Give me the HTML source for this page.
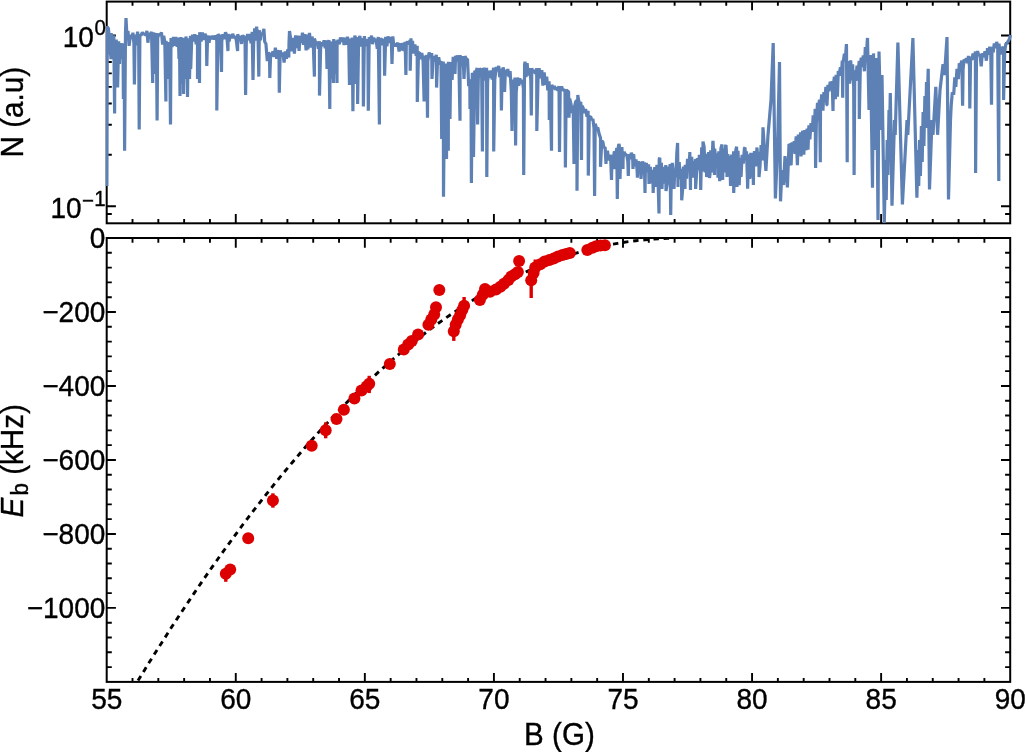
<!DOCTYPE html>
<html lang="en">
<head>
<meta charset="utf-8">
<title>N (a.u) and E_b (kHz) versus B (G)</title>
<style>
html,body{margin:0;padding:0;background:#fff;}
body{width:1025px;height:752px;overflow:hidden;font-family:"Liberation Sans", Arial, Helvetica, sans-serif;}
svg{display:block;}
</style>
</head>
<body>
<svg width="1025" height="752" viewBox="0 0 1025 752" font-family='"Liberation Sans", Arial, Helvetica, sans-serif' fill="#000">
<g stroke="#000" stroke-width="0.35">
<rect x="0" y="0" width="1025" height="752" fill="#fff" stroke="none"/>
<g fill="none" stroke="#000" stroke-width="2.0" stroke-linecap="butt">
<rect x="106.7" y="1.6" width="903.50" height="221.70"/>
<rect x="106.7" y="238.0" width="903.50" height="443.90"/>
</g>
<path d="M132.51 1.60v4.20M132.51 223.30v-4.40M132.51 238.00v4.75M132.51 681.90v-4.00M158.33 1.60v4.20M158.33 223.30v-4.40M158.33 238.00v4.75M158.33 681.90v-4.00M184.14 1.60v4.20M184.14 223.30v-4.40M184.14 238.00v4.75M184.14 681.90v-4.00M209.96 1.60v4.20M209.96 223.30v-4.40M209.96 238.00v4.75M209.96 681.90v-4.00M235.77 1.60v8.60M235.77 223.30v-9.20M235.77 238.00v9.70M235.77 681.90v-8.80M261.59 1.60v4.20M261.59 223.30v-4.40M261.59 238.00v4.75M261.59 681.90v-4.00M287.40 1.60v4.20M287.40 223.30v-4.40M287.40 238.00v4.75M287.40 681.90v-4.00M313.21 1.60v4.20M313.21 223.30v-4.40M313.21 238.00v4.75M313.21 681.90v-4.00M339.03 1.60v4.20M339.03 223.30v-4.40M339.03 238.00v4.75M339.03 681.90v-4.00M364.84 1.60v8.60M364.84 223.30v-9.20M364.84 238.00v9.70M364.84 681.90v-8.80M390.66 1.60v4.20M390.66 223.30v-4.40M390.66 238.00v4.75M390.66 681.90v-4.00M416.47 1.60v4.20M416.47 223.30v-4.40M416.47 238.00v4.75M416.47 681.90v-4.00M442.29 1.60v4.20M442.29 223.30v-4.40M442.29 238.00v4.75M442.29 681.90v-4.00M468.10 1.60v4.20M468.10 223.30v-4.40M468.10 238.00v4.75M468.10 681.90v-4.00M493.91 1.60v8.60M493.91 223.30v-9.20M493.91 238.00v9.70M493.91 681.90v-8.80M519.73 1.60v4.20M519.73 223.30v-4.40M519.73 238.00v4.75M519.73 681.90v-4.00M545.54 1.60v4.20M545.54 223.30v-4.40M545.54 238.00v4.75M545.54 681.90v-4.00M571.36 1.60v4.20M571.36 223.30v-4.40M571.36 238.00v4.75M571.36 681.90v-4.00M597.17 1.60v4.20M597.17 223.30v-4.40M597.17 238.00v4.75M597.17 681.90v-4.00M622.99 1.60v8.60M622.99 223.30v-9.20M622.99 238.00v9.70M622.99 681.90v-8.80M648.80 1.60v4.20M648.80 223.30v-4.40M648.80 238.00v4.75M648.80 681.90v-4.00M674.61 1.60v4.20M674.61 223.30v-4.40M674.61 238.00v4.75M674.61 681.90v-4.00M700.43 1.60v4.20M700.43 223.30v-4.40M700.43 238.00v4.75M700.43 681.90v-4.00M726.24 1.60v4.20M726.24 223.30v-4.40M726.24 238.00v4.75M726.24 681.90v-4.00M752.06 1.60v8.60M752.06 223.30v-9.20M752.06 238.00v9.70M752.06 681.90v-8.80M777.87 1.60v4.20M777.87 223.30v-4.40M777.87 238.00v4.75M777.87 681.90v-4.00M803.69 1.60v4.20M803.69 223.30v-4.40M803.69 238.00v4.75M803.69 681.90v-4.00M829.50 1.60v4.20M829.50 223.30v-4.40M829.50 238.00v4.75M829.50 681.90v-4.00M855.31 1.60v4.20M855.31 223.30v-4.40M855.31 238.00v4.75M855.31 681.90v-4.00M881.13 1.60v8.60M881.13 223.30v-9.20M881.13 238.00v9.70M881.13 681.90v-8.80M906.94 1.60v4.20M906.94 223.30v-4.40M906.94 238.00v4.75M906.94 681.90v-4.00M932.76 1.60v4.20M932.76 223.30v-4.40M932.76 238.00v4.75M932.76 681.90v-4.00M958.57 1.60v4.20M958.57 223.30v-4.40M958.57 238.00v4.75M958.57 681.90v-4.00M984.39 1.60v4.20M984.39 223.30v-4.40M984.39 238.00v4.75M984.39 681.90v-4.00M106.70 214.01h5.10M1010.20 214.01h-5.10M106.70 206.20h9.20M1010.20 206.20h-9.20M106.70 154.81h5.10M1010.20 154.81h-5.10M106.70 124.76h5.10M1010.20 124.76h-5.10M106.70 103.43h5.10M1010.20 103.43h-5.10M106.70 86.89h5.10M1010.20 86.89h-5.10M106.70 73.37h5.10M1010.20 73.37h-5.10M106.70 61.94h5.10M1010.20 61.94h-5.10M106.70 52.04h5.10M1010.20 52.04h-5.10M106.70 43.31h5.10M1010.20 43.31h-5.10M106.70 35.50h9.20M1010.20 35.50h-9.20M106.70 252.80h5.10M1010.20 252.80h-5.10M106.70 267.59h5.10M1010.20 267.59h-5.10M106.70 282.39h5.10M1010.20 282.39h-5.10M106.70 297.19h5.10M1010.20 297.19h-5.10M106.70 311.98h9.20M1010.20 311.98h-9.20M106.70 326.78h5.10M1010.20 326.78h-5.10M106.70 341.58h5.10M1010.20 341.58h-5.10M106.70 356.37h5.10M1010.20 356.37h-5.10M106.70 371.17h5.10M1010.20 371.17h-5.10M106.70 385.97h9.20M1010.20 385.97h-9.20M106.70 400.76h5.10M1010.20 400.76h-5.10M106.70 415.56h5.10M1010.20 415.56h-5.10M106.70 430.36h5.10M1010.20 430.36h-5.10M106.70 445.15h5.10M1010.20 445.15h-5.10M106.70 459.95h9.20M1010.20 459.95h-9.20M106.70 474.75h5.10M1010.20 474.75h-5.10M106.70 489.54h5.10M1010.20 489.54h-5.10M106.70 504.34h5.10M1010.20 504.34h-5.10M106.70 519.14h5.10M1010.20 519.14h-5.10M106.70 533.93h9.20M1010.20 533.93h-9.20M106.70 548.73h5.10M1010.20 548.73h-5.10M106.70 563.53h5.10M1010.20 563.53h-5.10M106.70 578.32h5.10M1010.20 578.32h-5.10M106.70 593.12h5.10M1010.20 593.12h-5.10M106.70 607.92h9.20M1010.20 607.92h-9.20M106.70 622.71h5.10M1010.20 622.71h-5.10M106.70 637.51h5.10M1010.20 637.51h-5.10M106.70 652.31h5.10M1010.20 652.31h-5.10M106.70 667.10h5.10M1010.20 667.10h-5.10" fill="none" stroke="#000" stroke-width="1.9"/>
<text transform="translate(106.70 708.8) scale(1 1.04)" font-size="28" text-anchor="middle">55</text>
<text transform="translate(235.77 708.8) scale(1 1.04)" font-size="28" text-anchor="middle">60</text>
<text transform="translate(364.84 708.8) scale(1 1.04)" font-size="28" text-anchor="middle">65</text>
<text transform="translate(493.91 708.8) scale(1 1.04)" font-size="28" text-anchor="middle">70</text>
<text transform="translate(622.99 708.8) scale(1 1.04)" font-size="28" text-anchor="middle">75</text>
<text transform="translate(752.06 708.8) scale(1 1.04)" font-size="28" text-anchor="middle">80</text>
<text transform="translate(881.13 708.8) scale(1 1.04)" font-size="28" text-anchor="middle">85</text>
<text transform="translate(1010.20 708.8) scale(1 1.04)" font-size="28" text-anchor="middle">90</text>
<text transform="translate(105.3 248.40) scale(1 1.04)" font-size="28" text-anchor="end">0</text>
<text transform="translate(105.3 322.38) scale(1 1.04)" font-size="28" text-anchor="end">−200</text>
<text transform="translate(105.3 396.37) scale(1 1.04)" font-size="28" text-anchor="end">−400</text>
<text transform="translate(105.3 470.35) scale(1 1.04)" font-size="28" text-anchor="end">−600</text>
<text transform="translate(105.3 544.33) scale(1 1.04)" font-size="28" text-anchor="end">−800</text>
<text transform="translate(105.3 618.32) scale(1 1.04)" font-size="28" text-anchor="end">−1000</text>
<text transform="translate(93.8 46.9) scale(1 1.05)" font-size="28" text-anchor="end">10</text>
<text transform="translate(94.4 35.0) scale(1 1.04)" font-size="20.5" text-anchor="start">0</text>
<text transform="translate(81.6 217.7) scale(1 1.05)" font-size="28" text-anchor="end">10</text>
<text transform="translate(82.0 205.6) scale(1 1.04)" font-size="20.5" text-anchor="start"><tspan dy="2.2">−</tspan><tspan dy="-2.2" dx="0.3">1</tspan></text>
<text transform="translate(559.4 745.0) scale(1 1.04)" font-size="29.6" text-anchor="middle" id="lblB">B (G)</text>
<text transform="translate(22.9 112.2) rotate(-90) scale(1 1.03)" font-size="29.6" text-anchor="middle" id="lblN">N (a.u)</text>
<text transform="translate(22.9 460.8) rotate(-90) scale(1 1.03)" font-size="29.6" text-anchor="middle" id="lblE"><tspan font-style="italic">E</tspan><tspan font-size="22.5" dy="5.4" dx="2.2">b</tspan><tspan dy="-5.4"> (kHz)</tspan></text>
</g>
<clipPath id="c2"><rect x="106.7" y="238.0" width="903.50" height="443.90"/></clipPath>
<polyline clip-path="url(#c2)" points="135.6,684.5 140.1,677.2 144.6,669.9 149.1,662.6 153.6,655.5 158.1,648.3 162.6,641.3 167.1,634.3 171.5,627.3 176.0,620.4 180.5,613.6 185.0,606.8 189.5,600.1 194.0,593.4 198.5,586.8 202.9,580.3 207.4,573.8 211.9,567.4 216.4,561.0 220.9,554.7 225.4,548.4 229.9,542.3 234.4,536.1 238.8,530.1 243.3,524.0 247.8,518.1 252.3,512.2 256.8,506.4 261.3,500.6 265.8,494.9 270.2,489.3 274.7,483.7 279.2,478.2 283.7,472.7 288.2,467.3 292.7,462.0 297.2,456.7 301.6,451.5 306.1,446.3 310.6,441.2 315.1,436.2 319.6,431.2 324.1,426.3 328.6,421.5 333.1,416.7 337.5,412.0 342.0,407.4 346.5,402.8 351.0,398.3 355.5,393.8 360.1,389.4 364.6,385.1 369.1,380.8 373.6,376.6 378.1,372.4 382.7,368.3 387.2,364.3 391.7,360.4 396.2,356.5 400.7,352.7 405.3,348.9 409.8,345.2 414.3,341.6 418.8,338.0 423.3,334.5 427.9,331.0 432.4,327.6 436.9,324.3 441.4,321.1 445.9,317.9 450.5,314.7 455.0,311.7 459.5,308.7 464.0,305.7 468.6,302.9 473.1,300.1 477.6,297.3 482.1,294.6 486.6,292.0 491.2,289.5 495.7,287.0 500.2,284.5 504.7,282.2 509.2,279.9 513.8,277.6 518.3,275.5 522.8,273.3 527.3,271.3 531.8,269.3 536.4,267.4 540.9,265.5 545.4,263.7 549.9,262.0 554.5,260.3 559.0,258.7 563.5,257.2 568.0,255.7 572.5,254.2 577.1,252.9 581.6,251.6 586.1,250.3 590.6,249.2 595.1,248.0 599.7,247.0 604.2,246.0 608.7,245.1 613.2,244.2 617.7,243.4 622.3,242.6 626.8,241.9 631.3,241.3 635.8,240.7 640.4,240.2 644.9,239.8 649.4,239.4 653.9,239.0 658.4,238.8 663.0,238.5 667.5,238.4 672.0,238.3" fill="none" stroke="#000" stroke-width="2.9" stroke-dasharray="5.4 4.8" stroke-dashoffset="5.6"/>
<g fill="#dc0000" stroke="#dc0000">
<path d="M225.8 570.8V581.8" stroke-width="3.4" fill="none"/>
<path d="M230.2 566.4V572.4" stroke-width="3.4" fill="none"/>
<path d="M272.9 493.3V507.7" stroke-width="3.4" fill="none"/>
<path d="M325.7 422.3V438.3" stroke-width="3.4" fill="none"/>
<path d="M369.2 375.8V393.1" stroke-width="3.4" fill="none"/>
<path d="M453.8 325.3V340.9" stroke-width="3.4" fill="none"/>
<path d="M464.1 297.0V311.7" stroke-width="3.4" fill="none"/>
<path d="M531.2 270.2V298.0" stroke-width="3.4" fill="none"/>
<path d="M533.6 265.0V281.0" stroke-width="3.4" fill="none"/>
<path d="M535.2 259.5V275.5" stroke-width="3.4" fill="none"/>
<circle cx="225.8" cy="573.8" r="6.0" stroke="none"/>
<circle cx="230.2" cy="569.4" r="6.0" stroke="none"/>
<circle cx="248.2" cy="538.2" r="6.0" stroke="none"/>
<circle cx="272.9" cy="500.5" r="6.0" stroke="none"/>
<circle cx="311.7" cy="445.8" r="6.0" stroke="none"/>
<circle cx="325.7" cy="430.3" r="6.0" stroke="none"/>
<circle cx="336.5" cy="418.9" r="6.0" stroke="none"/>
<circle cx="343.9" cy="409.8" r="6.0" stroke="none"/>
<circle cx="354.4" cy="398.4" r="6.0" stroke="none"/>
<circle cx="361.5" cy="390.4" r="6.0" stroke="none"/>
<circle cx="366.6" cy="386.5" r="6.0" stroke="none"/>
<circle cx="369.2" cy="383.8" r="6.0" stroke="none"/>
<circle cx="389.8" cy="363.9" r="6.0" stroke="none"/>
<circle cx="403.8" cy="349.6" r="6.0" stroke="none"/>
<circle cx="408.2" cy="344.5" r="6.0" stroke="none"/>
<circle cx="411.8" cy="340.9" r="6.0" stroke="none"/>
<circle cx="418.1" cy="334.6" r="6.0" stroke="none"/>
<circle cx="428.4" cy="324.8" r="6.0" stroke="none"/>
<circle cx="431.3" cy="319.6" r="6.0" stroke="none"/>
<circle cx="434.2" cy="314.5" r="6.0" stroke="none"/>
<circle cx="436.0" cy="307.2" r="6.0" stroke="none"/>
<circle cx="439.3" cy="290.1" r="6.0" stroke="none"/>
<circle cx="453.8" cy="331.3" r="6.0" stroke="none"/>
<circle cx="455.7" cy="324.8" r="6.0" stroke="none"/>
<circle cx="457.9" cy="319.6" r="6.0" stroke="none"/>
<circle cx="460.1" cy="315.2" r="6.0" stroke="none"/>
<circle cx="462.3" cy="310.1" r="6.0" stroke="none"/>
<circle cx="464.1" cy="305.7" r="6.0" stroke="none"/>
<circle cx="479.9" cy="299.9" r="6.0" stroke="none"/>
<circle cx="482.8" cy="294.8" r="6.0" stroke="none"/>
<circle cx="485.0" cy="288.9" r="6.0" stroke="none"/>
<circle cx="490.1" cy="291.8" r="6.0" stroke="none"/>
<circle cx="496.0" cy="289.6" r="6.0" stroke="none"/>
<circle cx="500.4" cy="286.7" r="6.0" stroke="none"/>
<circle cx="504.0" cy="283.8" r="6.0" stroke="none"/>
<circle cx="508.4" cy="280.1" r="6.0" stroke="none"/>
<circle cx="511.3" cy="276.5" r="6.0" stroke="none"/>
<circle cx="515.0" cy="274.3" r="6.0" stroke="none"/>
<circle cx="517.9" cy="272.1" r="6.0" stroke="none"/>
<circle cx="519.1" cy="261.1" r="6.0" stroke="none"/>
<circle cx="531.2" cy="280.2" r="6.0" stroke="none"/>
<circle cx="533.6" cy="273.0" r="6.0" stroke="none"/>
<circle cx="535.2" cy="267.5" r="6.0" stroke="none"/>
<circle cx="540.3" cy="264.3" r="6.0" stroke="none"/>
<circle cx="544.7" cy="261.4" r="6.0" stroke="none"/>
<circle cx="549.3" cy="260.1" r="6.0" stroke="none"/>
<circle cx="553.7" cy="258.4" r="6.0" stroke="none"/>
<circle cx="558.0" cy="256.5" r="6.0" stroke="none"/>
<circle cx="562.4" cy="255.0" r="6.0" stroke="none"/>
<circle cx="566.1" cy="254.0" r="6.0" stroke="none"/>
<circle cx="569.8" cy="253.1" r="6.0" stroke="none"/>
<circle cx="587.3" cy="249.9" r="6.0" stroke="none"/>
<circle cx="592.4" cy="247.7" r="6.0" stroke="none"/>
<circle cx="596.1" cy="246.2" r="6.0" stroke="none"/>
<circle cx="600.5" cy="245.5" r="6.0" stroke="none"/>
<circle cx="604.9" cy="245.2" r="6.0" stroke="none"/>
</g>
<clipPath id="c1"><rect x="105.5" y="1.6" width="906.70" height="221.70"/></clipPath>
<polyline clip-path="url(#c1)" points="106.9,186.0 107.3,26.0 107.6,42.1 108.3,27.5 108.8,32.4 109.0,54.0 110.0,47.1 111.0,59.0 111.2,33.1 112.4,51.8 112.5,49.0 113.8,35.3 114.6,113.4 114.9,44.3 116.0,59.0 116.2,39.5 117.2,62.6 117.6,87.5 118.6,41.3 119.5,64.0 119.9,49.5 120.9,42.9 121.0,59.0 121.9,52.1 123.0,43.3 123.4,99.0 124.2,56.9 124.6,150.7 125.5,31.7 126.0,18.0 126.8,33.0 128.0,31.0 129.1,45.8 130.5,34.6 131.8,38.9 132.9,32.7 133.9,43.4 134.4,84.6 135.1,34.6 136.3,45.4 137.6,31.7 138.7,44.9 139.2,129.5 139.9,35.0 141.0,35.5 142.3,32.3 143.4,34.5 144.5,33.2 145.8,35.4 146.9,30.8 147.9,42.7 149.0,32.8 150.2,37.0 151.5,31.7 152.7,83.0 152.7,36.6 153.9,32.4 154.5,74.0 155.0,45.7 156.3,33.1 157.1,120.4 157.7,37.8 158.9,33.9 160.1,35.3 161.5,32.4 162.6,44.6 163.7,35.9 164.8,42.1 165.9,101.5 166.0,41.0 167.2,46.7 167.5,79.0 168.4,42.2 169.6,47.0 170.5,124.4 171.0,37.9 172.0,47.1 173.4,37.0 174.4,45.7 175.8,36.9 177.2,46.9 178.4,37.6 179.0,59.0 179.5,39.9 180.0,96.0 180.9,37.0 182.0,84.0 182.1,41.7 183.5,38.2 183.5,94.0 184.6,41.0 185.5,79.0 185.9,36.4 187.0,44.2 187.5,97.0 188.3,38.3 189.4,47.2 189.5,79.0 190.5,35.9 190.7,69.0 191.6,42.1 192.6,34.8 193.8,41.5 194.8,34.3 196.2,44.3 197.5,35.0 197.5,79.0 198.7,37.0 199.5,83.0 199.7,32.3 201.1,41.5 202.4,32.5 203.7,40.0 205.0,33.8 206.4,36.9 206.8,66.0 207.6,35.5 209.0,42.6 210.3,35.9 211.6,39.3 212.9,35.9 214.2,39.5 215.6,35.4 216.8,40.9 216.8,110.5 217.9,34.2 219.2,36.1 220.4,35.3 221.5,72.0 221.8,41.1 222.9,34.3 224.2,39.0 225.5,32.3 226.8,35.8 228.0,51.0 228.1,33.9 229.1,41.6 230.3,34.6 231.7,38.2 232.7,33.8 234.0,38.0 235.1,36.1 236.3,40.2 237.6,51.0 237.7,34.3 238.9,38.2 240.1,35.9 241.5,43.9 242.6,35.2 243.8,37.7 245.0,36.0 245.6,95.0 246.3,42.5 247.7,34.1 248.8,40.3 249.9,33.9 251.0,43.3 252.2,32.0 253.0,80.0 253.6,44.6 254.7,28.3 255.8,40.7 256.6,26.6 256.8,28.5 258.0,35.7 258.8,76.6 259.3,30.2 260.4,40.2 261.4,32.9 262.5,35.0 263.5,30.5 263.9,28.8 264.7,41.7 265.9,43.7 267.3,61.0 268.4,52.5 269.5,54.4 269.8,78.0 270.7,52.9 271.7,56.4 272.9,51.4 274.1,56.8 275.4,47.7 276.7,58.9 277.7,50.5 279.0,52.7 279.3,92.7 280.2,50.4 281.6,56.1 282.8,52.6 284.1,62.5 285.3,51.4 286.4,58.7 287.7,49.6 288.8,57.5 289.0,43.0 289.5,31.0 290.4,36.9 291.7,51.3 293.1,38.0 294.4,53.7 295.6,35.3 296.7,48.0 298.0,35.6 299.1,50.9 300.1,35.9 301.2,43.1 302.5,32.7 303.5,44.9 304.8,34.2 306.1,50.3 307.3,34.5 307.8,49.5 308.3,40.3 309.5,33.0 310.8,47.6 312.0,36.6 313.3,44.6 314.4,76.6 314.4,38.5 315.8,43.1 317.1,42.0 318.3,48.6 319.4,41.2 319.5,95.6 320.6,48.4 321.6,42.2 322.8,46.0 324.1,40.3 325.3,48.3 326.4,40.3 327.0,69.0 327.5,51.2 328.9,39.9 329.8,109.0 330.1,44.0 331.3,41.7 331.5,79.0 332.6,46.7 333.4,83.0 333.7,39.1 335.0,50.4 335.2,74.0 336.0,40.6 337.0,83.0 337.1,43.2 338.1,39.9 339.3,44.3 340.5,37.5 341.8,41.7 343.0,37.6 344.1,45.1 345.3,37.7 346.4,44.8 347.5,36.8 348.8,45.4 349.5,85.0 350.0,38.6 351.0,79.0 351.2,47.0 352.3,37.6 352.9,111.2 353.6,46.8 354.5,84.0 354.8,35.6 356.1,39.9 357.5,37.6 357.6,104.0 358.6,40.6 359.9,35.9 360.9,46.6 362.1,38.2 363.1,43.2 363.4,106.6 364.4,36.1 365.5,46.1 366.8,39.2 367.9,44.1 368.3,110.8 369.2,37.3 370.5,40.8 371.5,35.6 372.5,44.1 373.7,37.6 374.8,41.3 375.9,39.0 377.3,48.7 378.3,37.0 379.4,124.4 379.7,45.0 381.0,38.1 382.2,45.2 383.3,38.6 384.3,46.5 384.6,75.8 385.7,36.8 386.9,46.4 388.0,36.3 389.1,43.1 390.1,36.9 391.4,42.9 392.0,64.0 392.8,36.4 393.9,46.5 395.1,43.5 396.4,46.3 397.8,42.7 399.1,51.4 400.3,43.3 401.6,50.4 402.9,43.1 404.1,50.9 405.1,41.8 405.9,75.0 406.3,43.8 407.5,41.6 408.7,44.5 410.1,40.2 410.2,70.7 411.0,38.3 411.2,47.5 412.5,41.0 413.6,53.4 414.9,44.4 416.2,55.7 417.2,45.7 417.3,102.0 418.5,52.8 419.6,52.4 420.7,59.3 421.8,53.1 423.1,60.9 424.1,101.5 424.3,55.5 425.5,65.0 426.8,55.0 427.5,117.8 427.8,61.4 429.1,52.4 430.5,57.4 431.7,53.1 432.0,79.0 432.9,62.0 433.9,56.1 435.1,61.6 436.3,54.8 436.6,87.6 437.4,64.5 438.7,57.2 440.0,64.5 441.0,60.9 441.7,139.0 442.0,71.8 443.3,61.5 443.5,196.8 444.6,85.4 445.0,129.0 445.7,63.6 446.5,159.0 447.0,69.9 448.3,150.7 448.4,61.7 449.6,90.6 450.0,119.0 450.7,62.0 452.1,80.0 453.2,56.9 454.6,64.5 455.0,74.0 455.6,55.7 456.8,60.1 457.8,55.4 458.9,62.7 460.0,120.7 460.1,55.1 461.2,64.3 462.4,56.2 463.6,68.9 464.0,79.0 465.0,56.1 466.1,59.1 467.5,59.0 468.7,86.1 469.8,79.2 470.0,109.0 471.0,85.7 471.4,183.0 472.3,72.9 473.4,75.6 473.5,157.0 474.8,70.8 476.1,72.3 477.1,67.9 477.6,124.4 478.3,78.7 479.3,68.2 480.4,71.8 481.6,68.4 482.4,151.4 482.9,75.8 484.1,67.7 485.2,80.7 486.6,67.8 486.8,177.0 487.6,81.9 488.9,70.6 489.9,77.8 491.1,70.5 492.2,79.6 493.6,67.8 493.7,151.4 494.8,79.6 496.2,67.0 497.3,71.0 498.7,65.9 499.7,77.2 500.9,68.5 501.4,110.5 502.0,80.3 503.1,67.4 504.3,72.5 504.6,92.0 505.4,69.8 506.7,75.5 507.8,69.0 509.1,76.9 510.1,71.2 511.3,90.9 512.0,131.0 512.7,79.4 513.9,90.6 515.0,77.6 515.6,145.6 516.2,92.3 517.5,77.6 518.7,85.7 519.8,78.3 521.0,83.9 522.2,79.8 523.4,88.3 523.7,174.9 524.6,64.4 525.0,61.7 526.0,77.0 527.1,63.2 528.3,75.4 529.5,68.3 530.8,79.9 531.3,115.6 531.8,68.2 533.1,72.7 534.1,70.2 535.5,73.7 536.7,68.3 536.8,131.0 538.0,79.9 539.1,68.1 540.4,78.3 541.8,70.0 542.9,85.7 544.2,72.3 545.4,84.8 546.7,76.6 547.8,90.3 549.1,81.3 549.3,120.0 550.4,93.7 551.5,150.7 551.8,84.8 553.0,88.6 554.3,86.1 555.5,89.8 556.5,87.3 557.9,90.5 559.0,86.2 559.5,152.0 560.2,90.6 561.6,86.5 562.7,90.2 563.9,89.7 565.0,90.6 565.4,167.5 566.2,89.8 567.6,91.2 568.6,91.7 569.0,117.8 569.7,98.6 571.0,104.0 572.1,113.0 573.2,106.3 574.0,164.0 574.5,106.6 575.7,101.5 576.9,100.6 577.0,190.8 577.8,95.0 578.2,98.2 579.4,103.7 580.8,101.9 581.5,160.0 581.8,105.6 583.2,108.0 584.4,113.1 585.6,109.1 587.0,116.6 588.1,110.8 588.3,175.6 589.3,117.2 590.6,116.4 591.8,119.9 592.9,118.9 594.0,128.0 594.6,196.0 595.2,123.7 596.6,128.4 597.8,127.7 599.1,133.9 600.5,137.9 600.5,166.8 601.8,141.0 602.9,142.0 603.9,147.9 605.1,147.0 606.0,164.0 606.3,155.4 607.5,150.6 608.6,160.4 609.7,154.7 610.8,161.6 611.5,180.0 612.0,155.1 613.3,158.6 614.4,151.3 614.5,169.0 615.5,156.5 616.8,148.0 617.3,198.9 618.1,148.8 618.8,144.0 619.3,145.4 620.0,179.0 620.7,156.0 621.9,147.1 623.0,169.0 623.1,158.0 624.2,151.7 625.3,154.7 626.7,154.9 627.8,161.3 628.3,176.0 628.9,154.1 630.2,159.1 631.3,152.9 632.6,155.7 633.0,169.0 633.6,154.2 634.8,166.1 636.0,159.3 637.1,170.2 637.4,177.7 638.2,161.2 639.2,170.4 640.5,161.5 641.0,179.0 641.5,172.0 642.6,161.3 643.5,166.0 644.4,162.4 645.0,193.0 645.3,173.1 646.3,162.9 647.4,172.0 648.6,164.3 649.0,184.0 649.6,171.7 650.4,166.8 651.6,183.4 652.7,170.0 653.2,193.0 653.8,173.1 654.8,167.3 655.9,173.8 656.0,187.0 656.9,164.9 658.1,182.6 659.0,213.5 659.2,158.9 659.8,157.8 660.3,182.0 661.4,162.8 662.0,189.0 662.5,172.6 663.6,166.8 664.7,183.7 665.8,165.0 666.0,191.0 667.1,183.9 668.0,166.5 668.9,182.4 670.1,164.1 670.7,215.0 671.3,174.7 672.3,162.9 673.6,174.5 674.0,189.0 674.8,169.6 675.9,177.2 676.8,153.2 677.6,143.0 678.0,187.0 678.1,170.7 679.2,162.2 680.3,179.4 681.5,168.7 681.7,200.3 682.6,189.5 683.5,166.5 684.4,170.6 685.0,189.0 685.3,164.7 686.6,178.8 687.5,158.8 688.7,168.4 689.8,154.0 689.8,152.0 690.5,190.0 690.6,164.5 691.7,156.9 692.7,177.7 693.6,161.2 694.6,176.7 695.5,159.2 695.6,189.0 696.4,176.5 697.3,158.1 698.4,170.2 699.4,154.9 700.5,174.2 700.7,190.0 701.7,147.4 702.9,171.5 703.0,141.6 704.1,146.5 705.2,172.4 706.4,153.8 706.6,177.0 707.4,171.5 708.6,152.0 709.5,178.0 710.0,174.0 710.7,150.3 711.8,172.3 712.8,142.9 713.0,140.9 713.7,154.8 714.5,175.0 714.7,148.6 715.7,161.1 716.8,153.4 717.8,167.8 718.0,177.7 718.8,151.2 719.7,181.1 720.9,148.4 722.0,144.5 722.1,163.7 722.7,179.9 723.3,148.5 724.4,172.4 725.6,145.7 726.0,145.0 726.8,159.1 727.0,177.0 727.8,154.2 728.7,169.2 729.7,155.8 730.5,184.0 730.5,186.0 731.7,154.5 732.7,176.3 733.6,151.3 733.7,193.0 734.8,165.8 735.8,150.4 736.6,146.7 737.0,187.0 737.1,168.2 738.0,150.8 739.2,185.1 740.2,157.8 741.0,177.0 741.2,174.3 742.1,154.7 743.3,163.6 744.4,148.3 745.0,147.5 745.6,157.7 746.5,151.3 747.5,182.2 747.6,188.6 748.7,154.2 749.6,178.7 750.5,174.0 750.8,152.8 751.7,165.5 752.7,152.8 753.4,185.0 753.6,163.2 754.5,151.1 755.7,166.3 756.8,149.9 757.0,147.5 757.9,162.5 758.9,152.0 759.0,177.0 760.0,166.2 761.1,145.0 762.3,160.4 763.0,127.4 765.9,171.0 768.0,135.0 771.0,100.0 773.2,43.0 775.4,198.4 777.5,150.0 779.5,62.0 780.5,201.3 782.0,170.0 783.5,185.0 785.0,156.0 787.4,187.4 789.0,144.0 790.2,145.7 790.7,163.8 791.1,165.3 792.0,142.3 793.2,150.1 794.2,141.1 795.0,154.0 795.1,151.9 796.2,136.4 797.4,165.2 798.3,134.5 799.4,148.3 800.6,132.3 801.0,156.4 801.6,150.8 802.7,130.7 803.8,154.6 804.8,130.0 805.5,149.0 806.0,150.2 807.1,128.7 808.0,149.6 808.9,125.2 809.8,136.0 809.9,139.5 811.0,123.1 812.2,131.8 813.2,115.3 814.3,127.1 815.2,108.9 815.6,168.0 816.3,124.5 817.5,102.9 818.4,108.3 819.5,99.8 820.3,162.3 820.5,109.2 821.7,94.3 822.9,110.6 823.9,92.2 824.9,98.1 825.9,86.8 826.8,105.0 827.0,105.0 827.9,84.9 829.0,91.3 830.2,81.6 831.1,89.8 832.2,81.1 833.0,111.0 833.4,84.7 834.4,76.6 835.4,99.3 836.2,74.7 837.4,96.6 838.3,71.0 839.4,73.9 840.4,67.3 841.3,75.8 842.3,60.7 842.7,97.7 843.1,63.0 844.4,53.6 845.5,57.3 846.4,44.0 846.5,45.9 847.2,162.3 847.4,69.1 848.6,61.0 849.6,83.8 850.7,60.3 851.7,80.3 852.6,64.4 853.7,87.7 854.1,175.0 854.8,70.2 855.9,80.9 857.0,65.7 858.2,72.4 859.2,60.9 859.3,119.0 860.3,68.1 861.2,57.7 862.2,67.0 863.3,55.5 864.4,71.3 865.3,47.1 866.2,62.1 867.2,41.3 867.5,38.0 869.0,110.0 870.5,55.0 872.5,187.7 873.5,53.4 875.5,150.0 876.5,58.0 878.0,220.0 879.0,51.6 881.0,130.0 882.0,75.0 884.3,223.0 885.6,160.0 886.2,200.0 887.2,140.0 887.9,175.0 889.0,110.0 889.5,135.0 890.3,93.0 892.0,205.8 894.5,120.0 895.2,135.0 897.9,42.5 902.4,204.5 907.0,120.0 907.8,135.0 912.9,38.0 916.9,197.6 918.0,150.0 918.7,186.0 919.6,140.0 920.4,176.0 921.4,126.0 922.2,162.0 923.1,112.0 923.9,146.0 924.9,96.0 925.7,128.0 926.5,82.0 927.2,106.0 928.2,68.8 929.5,189.5 932.0,120.0 933.0,135.0 935.8,86.9 937.6,134.8 940.0,90.0 943.0,64.2 944.5,75.0 947.0,37.0 948.5,199.5 950.5,120.0 951.2,105.5 952.3,92.5 953.7,94.7 954.8,77.4 955.8,86.9 957.0,68.9 958.3,79.1 959.3,63.4 960.4,65.7 961.8,60.6 962.6,105.7 963.1,69.1 964.1,59.4 965.2,61.9 966.3,58.2 967.3,63.1 968.5,56.0 969.5,66.5 969.8,108.5 970.6,56.7 971.9,60.1 973.0,53.6 974.3,59.3 975.4,51.6 975.6,173.0 976.5,57.0 977.6,51.1 978.7,55.7 979.9,54.1 981.2,66.3 982.3,53.3 983.7,56.8 985.0,51.3 986.4,60.7 987.5,48.1 988.5,54.7 989.7,46.8 990.8,54.6 991.5,104.8 992.0,46.8 993.1,52.6 994.3,43.4 995.5,48.1 996.6,42.0 997.7,45.6 998.8,181.0 999.0,43.6 1000.2,54.5 1001.2,46.7 1002.3,51.4 1003.5,46.4 1003.6,100.0 1004.7,51.8 1005.9,43.5 1007.0,43.3 1008.1,41.4 1009.4,38.9 1010.6,35.0" fill="none" stroke="#5e81b5" stroke-width="3.2" stroke-linejoin="bevel"/>
</svg>
</body>
</html>
